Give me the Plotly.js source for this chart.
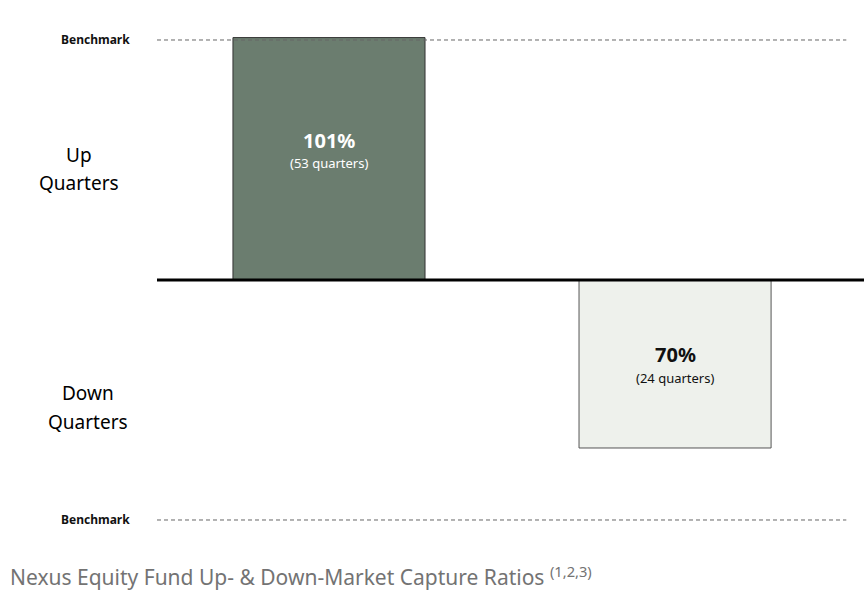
<!DOCTYPE html>
<html><head><meta charset="utf-8">
<script src="https://cdn.plot.ly/plotly-3.0.1.min.js"></script>
<style>html,body{margin:0;padding:0;background:#fff}#chart{width:864px;height:603px}</style>
</head><body><div id="chart"></div>
<script>
const categories = ["Up Quarters", "Down Quarters"];
const captureRatios = [101, 70];
const quarterCounts = [53, 24];
const benchmarkLevel = 100;
const xPositions = [1, 2];
const signs = [1, -1];

const barValues = captureRatios.map((v, i) => v * signs[i]);

const trace = {
  type: 'bar',
  x: xPositions,
  y: barValues,
  width: 0.555,
  marker: {
    color: ['#6b7d6f', '#eef1ec'],
    line: {color: ['#333333', '#555555'], width: 1}
  },
  hoverinfo: 'skip',
  showlegend: false
};

const font = "'Noto Sans', 'Open Sans', sans-serif";

const annotations = [];
captureRatios.forEach((v, i) => {
  const txtColor = i === 0 ? '#ffffff' : '#111111';
  annotations.push({
    x: xPositions[i], y: barValues[i] / 2, xref: 'x', yref: 'y',
    text: '<b>' + v + '%</b>', showarrow: false, yshift: i === 0 ? 18 : 9,
    font: {family: font, size: 20, color: txtColor}
  });
  annotations.push({
    x: xPositions[i], y: barValues[i] / 2, xref: 'x', yref: 'y',
    text: '(' + quarterCounts[i] + ' quarters)', showarrow: false, yshift: i === 0 ? -4 : -14,
    font: {family: font, size: 13, color: txtColor}
  });
});

const sideLabels = [
  {lines: ['Up', 'Quarters'], y: benchmarkLevel / 2, px: 79, shifts: [5, -23]},
  {lines: ['Down', 'Quarters'], y: -benchmarkLevel / 2, px: 88, shifts: [7, -22]}
];
sideLabels.forEach(s => s.lines.forEach((ln, k) => annotations.push({
  x: (s.px - 157) / 707, xref: 'paper', y: s.y, yref: 'y', yshift: s.shifts[k],
  text: ln, showarrow: false, xanchor: 'center',
  font: {family: font, size: 19, color: '#000'}
})));
[benchmarkLevel, -benchmarkLevel].forEach(b => annotations.push({
  x: (95 - 157) / 707, xref: 'paper', y: b, yref: 'y',
  text: '<b>Benchmark</b>', showarrow: false, xanchor: 'center',
  font: {family: font, size: 12, color: '#111'}
}));

const shapes = [benchmarkLevel, -benchmarkLevel].map(b => ({
  type: 'line', xref: 'paper', yref: 'y', x0: 0, x1: 0.975, y0: b, y1: b,
  line: {color: '#666666', width: 1, dash: '4px,3px'}
}));
shapes.push({type: 'line', xref: 'paper', yref: 'y', x0: 0, x1: 1, y0: 0, y1: 0,
  line: {color: '#000000', width: 3}});

const layout = {
  width: 864, height: 603,
  margin: {l: 157, r: 0, t: 20, b: 43},
  paper_bgcolor: '#ffffff', plot_bgcolor: '#ffffff',
  xaxis: {range: [0.503, 2.546], visible: false, fixedrange: true},
  yaxis: {range: [-116.67, 108.33], visible: false, fixedrange: true, zeroline: false},
  title: {
    text: 'Nexus Equity Fund Up- & Down-Market Capture Ratios <sup>(1,2,3)</sup>',
    x: 10 / 864, xanchor: 'left', xref: 'container',
    y: 1 - 578 / 603, yanchor: 'middle', yref: 'container',
    font: {family: font, size: 21, color: '#737373'}
  },
  annotations: annotations,
  shapes: shapes,
  bargap: 0
};

Plotly.newPlot('chart', [trace], layout, {displayModeBar: false, staticPlot: true});
</script></body></html>
